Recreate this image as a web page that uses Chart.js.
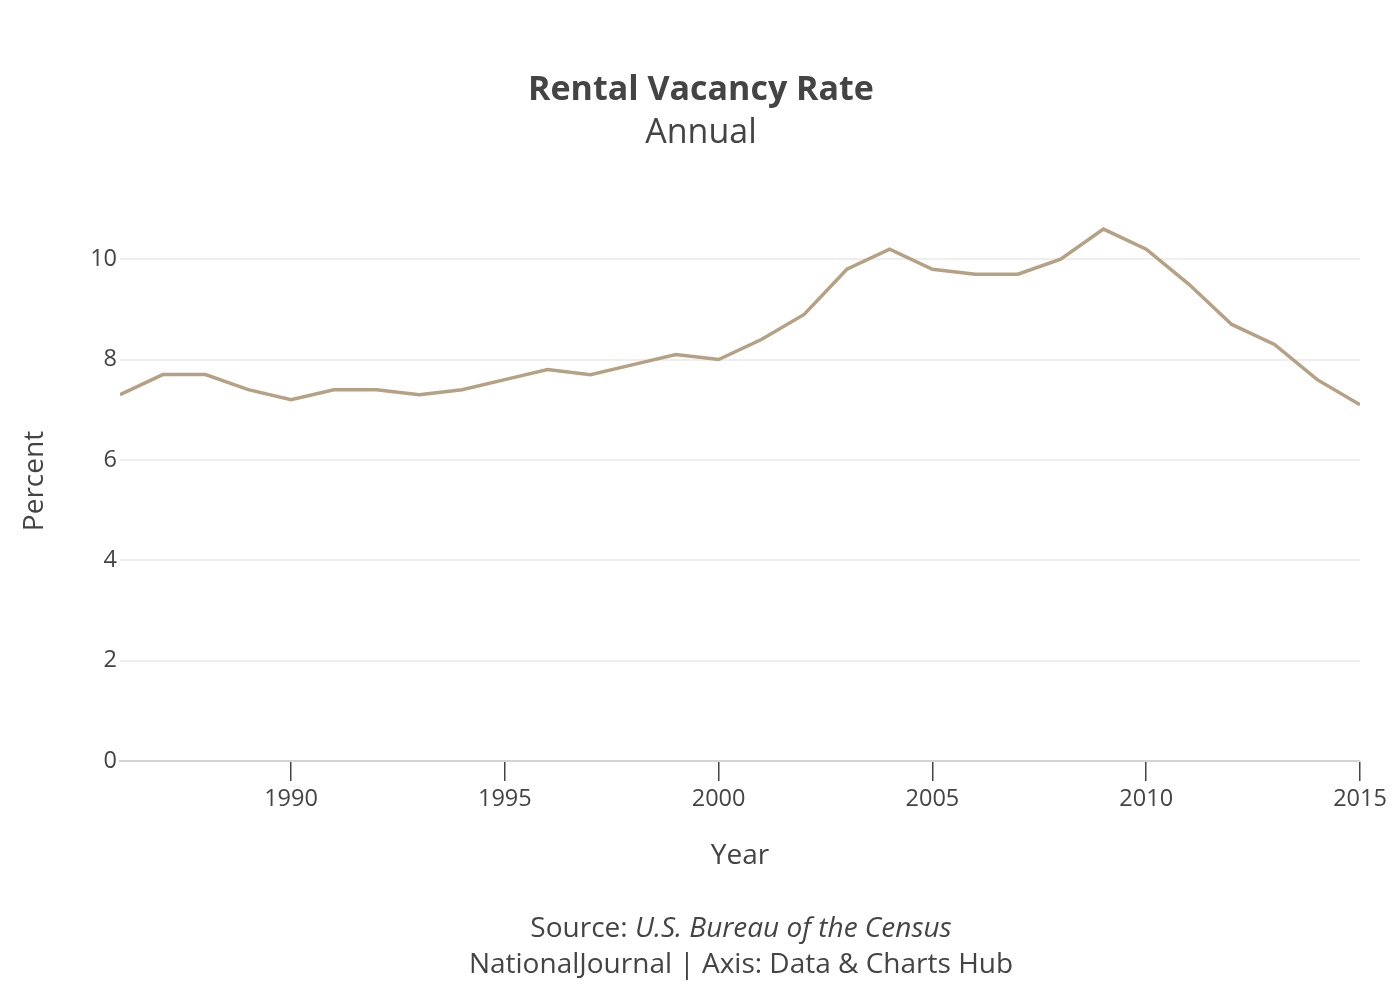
<!DOCTYPE html>
<html>
<head>
<meta charset="utf-8">
<script src="https://cdn.jsdelivr.net/npm/chart.js@4.4.1/dist/chart.umd.min.js"></script>
<style>
html,body{margin:0;padding:0;background:#fff;}
#wrap{width:1400px;height:1000px;position:relative;}
</style>
</head>
<body>
<div id="wrap"><canvas id="c" width="1400" height="1000"></canvas></div>
<script>
const years = [1986,1987,1988,1989,1990,1991,1992,1993,1994,1995,1996,1997,1998,1999,2000,2001,2002,2003,2004,2005,2006,2007,2008,2009,2010,2011,2012,2013,2014,2015];
const vacancyRate = [7.3,7.7,7.7,7.4,7.2,7.4,7.4,7.3,7.4,7.6,7.8,7.7,7.9,8.1,8.0,8.4,8.9,9.8,10.2,9.8,9.7,9.7,10.0,10.6,10.2,9.5,8.7,8.3,7.6,7.1];
const xTickValues = [1990,1995,2000,2005,2010,2015];
const yTickValues = [0,2,4,6,8,10];
const titleText = "Rental Vacancy Rate";
const subtitleText = "Annual";
const xTitle = "Year";
const yTitle = "Percent";
const sourceLabel = "Source: ";
const sourceName = "U.S. Bureau of the Census";
const creditText = "NationalJournal | Axis: Data & Charts Hub";

const FONT = "'Open Sans', 'Noto Sans', sans-serif";
const TXT = "#444444";

const textPlugin = {
  id: 'texts',
  afterDraw(chart) {
    const ctx = chart.ctx;
    const area = chart.chartArea;
    ctx.save();
    ctx.fillStyle = TXT;
    ctx.textAlign = 'center';
    ctx.textBaseline = 'middle';
    ctx.font = "bold 34px " + FONT;
    ctx.fillText(titleText, 701, 90);
    ctx.font = "34px " + FONT;
    ctx.fillText(subtitleText, 701, 133);
    ctx.font = "28px " + FONT;
    ctx.fillText(xTitle, (area.left + area.right) / 2, 856);
    ctx.save();
    ctx.translate(35, (area.top + area.bottom) / 2);
    ctx.rotate(-Math.PI / 2);
    ctx.fillText(yTitle, 0, 0);
    ctx.restore();
    // footer line 1 with italic part
    ctx.font = "28px " + FONT;
    const w1 = ctx.measureText(sourceLabel).width;
    ctx.font = "italic 28px " + FONT;
    const w2 = ctx.measureText(sourceName).width;
    const start = 741 - (w1 + w2) / 2;
    ctx.textAlign = 'left';
    ctx.font = "28px " + FONT;
    ctx.fillText(sourceLabel, start, 929);
    ctx.font = "italic 28px " + FONT;
    ctx.fillText(sourceName, start + w1, 929);
    ctx.textAlign = 'center';
    ctx.font = "28px " + FONT;
    ctx.fillText(creditText, 741, 965);
    ctx.restore();
  }
};

new Chart(document.getElementById('c'), {
  type: 'line',
  data: {
    datasets: [{
      data: years.map((y, i) => ({x: y, y: vacancyRate[i]})),
      borderColor: '#b5a184',
      borderWidth: 3.5,
      pointRadius: 0,
      fill: false,
      tension: 0
    }]
  },
  options: {
    responsive: false,
    animation: false,
    layout: {padding: {left: 0, right: 40, top: 201, bottom: 189}},
    plugins: {legend: {display: false}, tooltip: {enabled: false}, title: {display: false}},
    scales: {
      x: {
        type: 'linear',
        min: 1986,
        max: 2015,
        afterBuildTicks: s => { s.ticks = xTickValues.map(v => ({value: v})); },
        afterFit: s => { s.height = 50; },
        grid: {drawOnChartArea: false, drawTicks: true, tickLength: 20, color: '#444444', lineWidth: 1.5},
        border: {display: true, color: '#d4d4d4', width: 2},
        ticks: {
          autoSkip: false,
          maxRotation: 0,
          padding: 4,
          color: TXT,
          font: {family: FONT, size: 23.5},
          callback: v => String(v)
        }
      },
      y: {
        type: 'linear',
        min: 0,
        max: 11.16,
        afterBuildTicks: s => { s.ticks = yTickValues.map(v => ({value: v})); },
        afterFit: s => { s.width = 120; },
        grid: {color: '#eeeeee', lineWidth: 2, drawTicks: false},
        border: {display: false},
        ticks: {
          padding: 3,
          color: TXT,
          font: {family: FONT, size: 23.5},
          callback: v => String(v)
        }
      }
    }
  },
  plugins: [textPlugin]
});
</script>
</body>
</html>
